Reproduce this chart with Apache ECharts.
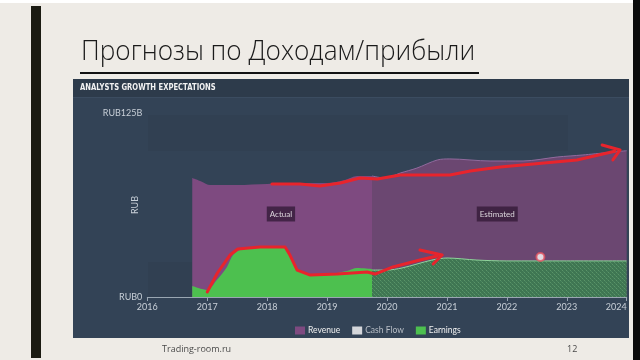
<!DOCTYPE html>
<html><head><meta charset="utf-8">
<script src="https://cdn.jsdelivr.net/npm/echarts@6/dist/echarts.min.js"></script>
<style>html,body{margin:0;padding:0;background:#eeebe6;overflow:hidden}#c{width:640px;height:360px}</style>
</head><body><div id="c"></div>
<script>
// ---- data ----
const xTickValues = [2016, 2017, 2018, 2019, 2020, 2021, 2022, 2023, 2024];
const xTickLabels = ['2016', '2017', '2018', '2019', '2020', '2021', '2022', '2023', '2024'];
const yTickValues = [0, 125];
const yTickLabels = ['RUB0', 'RUB125B'];
const legendNames = ['Revenue', 'Cash Flow', 'Earnings'];

const revenueActualX = [2016.75, 2016.9, 2017.05, 2017.5, 2018.0, 2018.5, 2019.0, 2019.3, 2019.5, 2019.75];
const revenueActualY = [80.8, 78.5, 76.1, 76.1, 76.8, 77.4, 77.4, 79.5, 82.2, 82.2];
const revenueEstX = [2019.75, 2019.97, 2020.22, 2020.5, 2020.84, 2021.05, 2021.72, 2022.27, 2022.84, 2023.27, 2024.0];
const revenueEstY = [82.2, 80.8, 84.2, 87.6, 93.1, 93.8, 92.4, 92.4, 95.1, 96.5, 99.4];

const earningsActualX = [2016.75, 2017.0, 2017.16, 2017.33, 2017.43, 2017.55, 2017.8, 2018.27, 2018.38, 2018.5, 2018.6, 2018.93, 2019.33, 2019.5, 2019.75];
const earningsActualY = [7.5, 4.8, 11.5, 20.4, 28.5, 31.9, 33.3, 33.3, 27.2, 19.7, 16.3, 14.9, 17.7, 19.7, 19.0];
const earningsEstX = [2019.75, 2020.0, 2020.25, 2020.5, 2020.75, 2021.0, 2021.5, 2022.0, 2023.0, 2024.0];
const earningsEstY = [18.3, 18.3, 19.7, 22.4, 25.1, 26.5, 25.1, 24.5, 24.5, 24.5];

// hand-drawn red annotations on the slide
const revArrowX = [2018.08, 2018.55, 2018.88, 2019.22, 2019.55, 2019.84, 2020.22, 2021.05, 2021.39, 2021.89, 2022.44, 2023.17, 2023.8];
const revArrowY = [76.8, 76.8, 75.4, 77.4, 80.8, 80.2, 82.9, 82.9, 85.6, 88.3, 90.4, 93.1, 99.0];
const revHeadX = [2023.59, 2023.89, 2023.77];
const revHeadY = [103.3, 99.9, 93.1];
const earnArrowX = [2017.0, 2017.17, 2017.38, 2017.51, 2017.88, 2018.3, 2018.38, 2018.5, 2018.72, 2019.17, 2019.67, 2019.8, 2020.1, 2020.55, 2020.84];
const earnArrowY = [3.4, 16.3, 28.5, 32.6, 34.0, 34.0, 28.5, 18.3, 14.9, 15.6, 17.0, 15.6, 20.4, 25.1, 27.9];
const earnHeadX = [2020.55, 2020.92, 2020.77];
const earnHeadY = [31.9, 28.5, 22.4];

const markerX = [2022.56];
const markerY = [27.2];
const periodLabels = ['Actual', 'Estimated'];
const periodLabelX = [2018.23, 2021.84];
const periodLabelY = [56.4, 56.4];

const zip = (xs, ys) => xs.map((x, i) => [x, ys[i]]);

// hatch pattern for estimated earnings
const pc = document.createElement('canvas'); pc.width = 4; pc.height = 4;
const g = pc.getContext('2d');
g.fillStyle = '#3f7652'; g.fillRect(0, 0, 4, 4);
g.fillStyle = '#5a9468'; g.fillRect(0, 0, 1, 1); g.fillRect(2, 2, 1, 1);
g.fillStyle = '#4a8560'; g.fillRect(1, 1, 1, 1); g.fillRect(3, 3, 1, 1);

const chart = echarts.init(document.getElementById('c'), null, {renderer: 'canvas'});
const red = '#e8242c';
const redLine = (name, xs, ys) => ({
  type: 'line', name: name, data: zip(xs, ys), symbol: 'none', smooth: false, z: 10,
  lineStyle: {color: red, width: 3, cap: 'round', join: 'round'}, silent: true
});
const axisFont = 'Lato, "Open Sans", sans-serif';

chart.setOption({
  animation: false,
  backgroundColor: '#eeebe6',
  graphic: [
    {type: 'rect', z: -10, shape: {x: 0, y: 0, width: 640, height: 3}, style: {fill: '#ffffff'}},
    {type: 'rect', z: -10, shape: {x: 633, y: 0, width: 7, height: 360}, style: {fill: '#0b0b0b'}},
    {type: 'rect', z: -10, shape: {x: 31, y: 6, width: 10, height: 352}, style: {fill: '#1b1b12'}},
    {type: 'text', z: -10, x: 81, y: 66, scaleX: 0.97, style: {text: 'Прогнозы по Доходам/прибыли', x: 0, y: 0, textVerticalAlign: 'bottom', fill: '#1a1a1a', font: '300 27px "Open Sans", "Noto Sans", sans-serif'}},
    {type: 'rect', z: -10, shape: {x: 80, y: 72, width: 399, height: 2}, style: {fill: '#111111'}},
    {type: 'rect', z: -10, shape: {x: 73, y: 79, width: 556, height: 259}, style: {fill: '#334356'}},
    {type: 'rect', z: -10, shape: {x: 73, y: 79, width: 556, height: 18}, style: {fill: '#2d3b4b'}},
    {type: 'rect', z: -10, shape: {x: 73, y: 97, width: 556, height: 1}, style: {fill: '#3b4c60'}},
    {type: 'rect', z: -9, shape: {x: 148, y: 115, width: 420, height: 36}, style: {fill: 'rgba(0,0,0,0.035)'}},
    {type: 'rect', z: -9, shape: {x: 148, y: 262, width: 44, height: 35}, style: {fill: 'rgba(0,0,0,0.035)'}},
    {type: 'text', z: -8, x: 80, y: 88, scaleX: 0.72, style: {text: 'ANALYSTS GROWTH EXPECTATIONS', x: 0, y: 0, textVerticalAlign: 'middle', fill: '#f2f2f2', font: 'bold 9.5px "DejaVu Sans", sans-serif'}},
    {type: 'text', z: -8, style: {text: 'Trading-room.ru', x: 162, y: 349, textVerticalAlign: 'middle', fill: '#4a4a4a', font: '9px "Open Sans", sans-serif'}},
    {type: 'text', z: -8, style: {text: '12', x: 567, y: 349, textVerticalAlign: 'middle', fill: '#4a4a4a', font: '9px "Open Sans", sans-serif'}}
  ],
  grid: {left: 147.3, right: 13.3, top: 113, bottom: 63, containLabel: false},
  xAxis: {
    type: 'value', min: 2016, max: 2024, interval: 1,
    axisLine: {show: true, lineStyle: {color: '#9aa6b2', width: 1}},
    axisTick: {show: true, length: 4, lineStyle: {color: '#9aa6b2'}},
    splitLine: {show: false},
    axisLabel: {color: '#c9d0d8', fontSize: 9, fontFamily: axisFont, margin: 6, alignMaxLabel: 'right',
      formatter: v => { const i = xTickValues.indexOf(v); return i >= 0 ? xTickLabels[i] : ''; }}
  },
  yAxis: {
    type: 'value', min: 0, max: 125, interval: 125,
    name: 'RUB', nameLocation: 'middle', nameGap: 8, nameRotate: 90, nameMoveOverlap: false,
    nameTextStyle: {color: '#c9d0d8', fontSize: 9, fontFamily: axisFont},
    axisLine: {show: false}, axisTick: {show: false}, splitLine: {show: false},
    axisLabel: {color: '#c9d0d8', fontSize: 9, fontFamily: axisFont, margin: 5,
      formatter: v => { const i = yTickValues.indexOf(v); return i >= 0 ? yTickLabels[i] : ''; }}
  },
  legend: {
    left: 290, top: 321, itemWidth: 10, itemHeight: 8, itemGap: 12, icon: 'rect',
    data: [
      {name: legendNames[0], textStyle: {color: '#f0f0f0'}},
      {name: legendNames[1], textStyle: {color: '#b8bec6'}},
      {name: legendNames[2], textStyle: {color: '#f0f0f0'}}
    ],
    textStyle: {fontSize: 8.5, fontFamily: axisFont, padding: [0, 0, 0, -2]},
    selectedMode: false
  },
  series: [
    {type: 'line', name: legendNames[0], data: zip(revenueActualX, revenueActualY), symbol: 'none', smooth: 0.3, z: 2,
      color: '#7e4a80', lineStyle: {width: 0}, areaStyle: {color: '#7e4a80', opacity: 1}},
    {type: 'line', name: legendNames[0], data: zip(revenueEstX, revenueEstY), symbol: 'none', smooth: 0.3, z: 2,
      color: '#7e4a80', lineStyle: {width: 1, color: '#926a9e'}, areaStyle: {color: '#6b4771', opacity: 1}},
    {type: 'line', name: legendNames[1], data: [], symbol: 'none', color: '#d4d6da'},
    {type: 'line', name: legendNames[2], data: zip(earningsActualX, earningsActualY), symbol: 'none', smooth: 0.3, z: 3,
      color: '#4dc04f', lineStyle: {width: 0}, areaStyle: {color: '#4dc04f', opacity: 1}},
    {type: 'line', name: legendNames[2], data: zip(earningsEstX, earningsEstY), symbol: 'none', smooth: 0.3, z: 3,
      color: '#4dc04f', lineStyle: {width: 1, color: '#8fd49b'}, areaStyle: {color: {image: pc, repeat: 'repeat'}, opacity: 1}},
    redLine('annRev', revArrowX, revArrowY),
    redLine('annRevHead', revHeadX, revHeadY),
    redLine('annEarn', earnArrowX, earnArrowY),
    redLine('annEarnHead', earnHeadX, earnHeadY),
    {type: 'scatter', name: 'marker', data: zip(markerX, markerY), symbol: 'circle', symbolSize: 8, z: 11,
      itemStyle: {color: '#ffffff', borderColor: '#e0505e', borderWidth: 2}, silent: true},
    {type: 'scatter', name: 'period', data: periodLabelX.map((x, i) => ({value: [x, periodLabelY[i]], name: periodLabels[i]})),
      symbolSize: 0, z: 12, silent: true,
      label: {show: true, position: 'inside', formatter: p => p.name, color: '#ffffff', fontSize: 8,
        fontFamily: axisFont, backgroundColor: '#341a38', padding: [4, 3, 3, 3]}}
  ]
});
</script></body></html>
